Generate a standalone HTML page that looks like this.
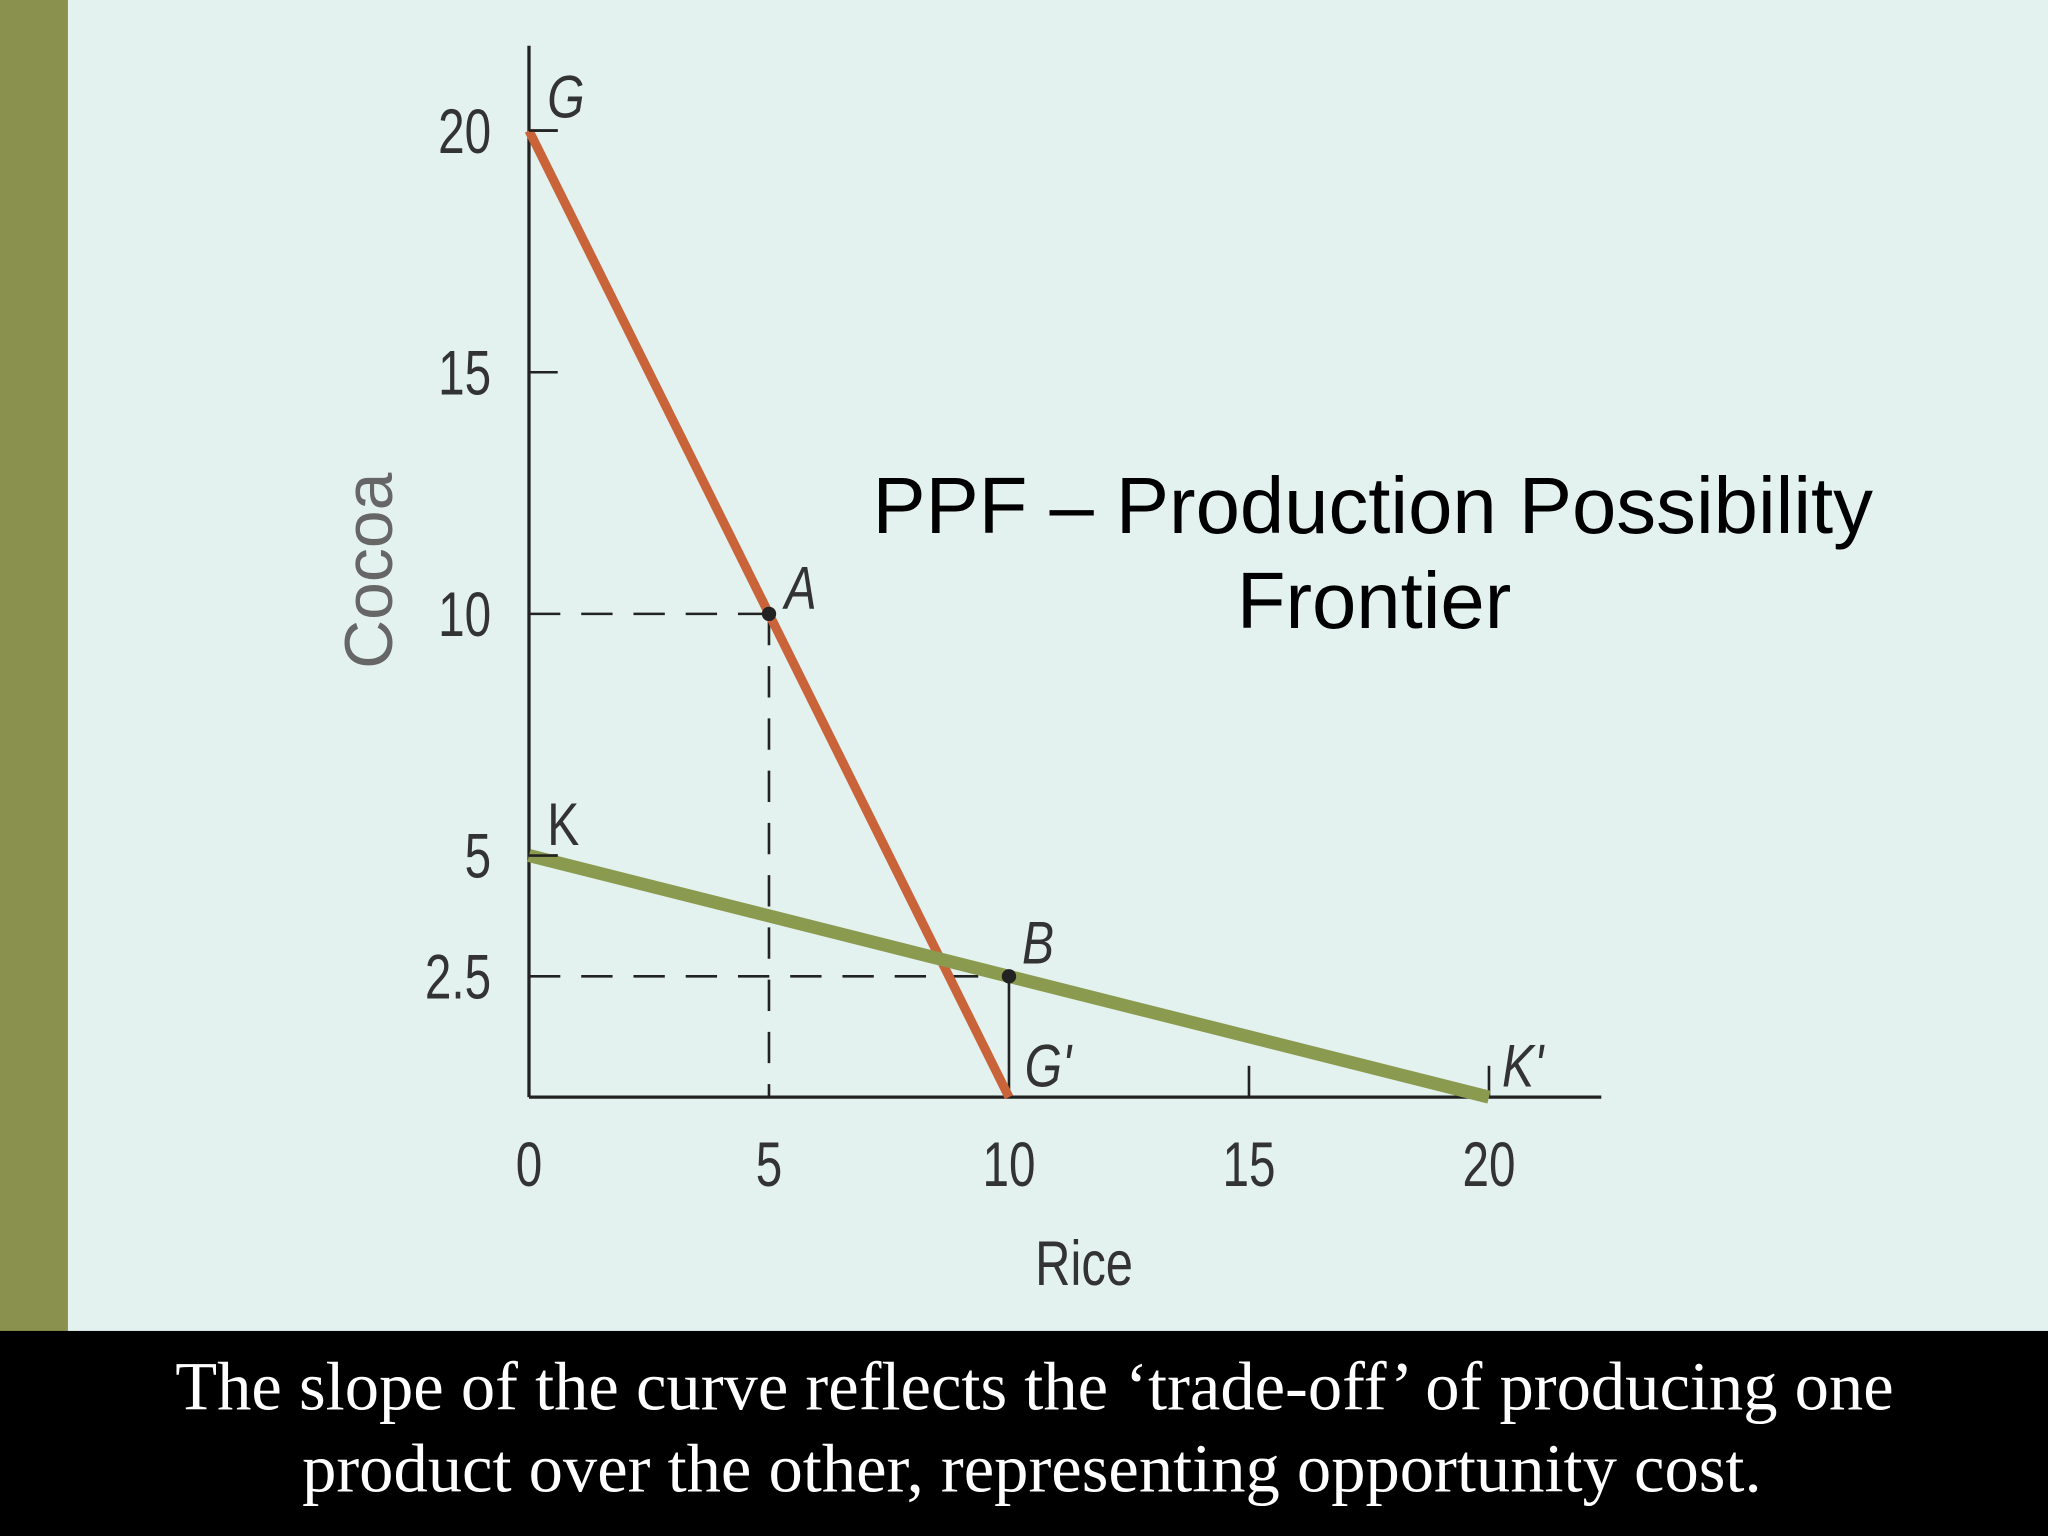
<!DOCTYPE html>
<html><head><meta charset="utf-8">
<style>
html,body{margin:0;padding:0;width:2048px;height:1536px;overflow:hidden;background:#e3f2ef}
svg{display:block}
.tick{font-family:"Liberation Sans",sans-serif;font-size:48px;fill:#333}
.lbl{font-family:"Liberation Sans",sans-serif;font-size:46px;fill:#333;font-style:italic}
</style></head>
<body>
<svg width="2048" height="1536" viewBox="0 0 1568 1176" preserveAspectRatio="none">
<rect x="0" y="0" width="1568" height="1176" fill="#e3f2ef"/>
<rect x="0" y="0" width="52" height="1020" fill="#8a914f"/>
<rect x="0" y="1019" width="1568" height="157" fill="#000"/>
<g id="chart"></g>
<text x="1051" y="408" text-anchor="middle" font-family="Liberation Sans,sans-serif" font-size="61" fill="#000">PPF – Production Possibility</text>
<text x="1052" y="481" text-anchor="middle" font-family="Liberation Sans,sans-serif" font-size="61" fill="#000">Frontier</text>
<text x="792" y="1079" text-anchor="middle" font-family="Liberation Serif,serif" font-size="52.5" fill="#fff">The slope of the curve reflects the ‘trade-off’ of producing one</text>
<text x="790" y="1142" text-anchor="middle" font-family="Liberation Serif,serif" font-size="52.5" fill="#fff">product over the other, representing opportunity cost.</text>
</svg>
<script>
const xTicks=[0,5,10,15,20];
const yTicks=[20,15,10,5,2.5];
const lineG=[[0,20],[10,0]];
const lineK=[[0,5],[20,0]];
const pointA=[5,10];
const pointB=[10,2.5];
const NS="http://www.w3.org/2000/svg";
const g=document.getElementById('chart');
const X=v=>405+v*36.75;
const Y=v=>840-v*37;
function mk(tag,attrs,parent){const e=document.createElementNS(NS,tag);for(const k in attrs)e.setAttribute(k,attrs[k]);(parent||g).appendChild(e);return e;}
function txt(s,x,y,cls,anchor,name,sx){const e=mk('text',{x:x,y:y,class:cls,'text-anchor':anchor||'middle'});if(sx)e.setAttribute('transform',`translate(${x},${y}) scale(${sx},1) translate(${-x},${-y})`);e.textContent=s;


return e;}
let d;
d=mk('line',{x1:X(0),y1:Y(pointA[1]),x2:X(pointA[0]),y2:Y(pointA[1]),stroke:'#222','stroke-width':2,'stroke-dasharray':'24,16'});


d=mk('line',{x1:X(pointA[0]),y1:Y(pointA[1]),x2:X(pointA[0]),y2:Y(0),stroke:'#222','stroke-width':2,'stroke-dasharray':'24,16'});


d=mk('line',{x1:X(0),y1:Y(pointB[1]),x2:X(pointB[0]),y2:Y(pointB[1]),stroke:'#222','stroke-width':2,'stroke-dasharray':'24,16'});


d=mk('line',{x1:X(pointB[0]),y1:Y(pointB[1]),x2:X(pointB[0]),y2:Y(0),stroke:'#222','stroke-width':2});


let a=mk('line',{x1:X(0),y1:35,x2:X(0),y2:Y(0),stroke:'#222','stroke-width':2.5});


a=mk('line',{x1:X(0),y1:Y(0),x2:1226,y2:Y(0),stroke:'#222','stroke-width':2.5});


yTicks.forEach(v=>{
 if(v!==10&&v!==2.5){const t=mk('line',{x1:X(0),y1:Y(v),x2:X(0)+22,y2:Y(v),stroke:'#222','stroke-width':2});
 
 }
 txt(String(v),376,Y(v)+17,'tick','end','y-tick-label',0.76);
});
xTicks.forEach(v=>{
 if(v===15||v===20){const t=mk('line',{x1:X(v),y1:Y(0),x2:X(v),y2:Y(0)-24,stroke:'#222','stroke-width':2});
 
 }
 txt(String(v),X(v),908,'tick','middle','x-tick-label',0.76);
});
txt('Rice',830,984,'tick','middle','x-axis-title',0.78);
const yt=txt('Cocoa',0,0,'tick','middle','y-axis-title');
yt.setAttribute('transform','translate(300,437) rotate(-90)');
yt.style.fontSize='52px';
yt.style.fill='#666';
let l=mk('line',{x1:X(lineG[0][0]),y1:Y(lineG[0][1]),x2:X(lineG[1][0]),y2:Y(lineG[1][1]),stroke:'#c9643a','stroke-width':7});


l=mk('line',{x1:X(lineK[0][0]),y1:Y(lineK[0][1]),x2:X(lineK[1][0]),y2:Y(lineK[1][1]),stroke:'#8a9a4e','stroke-width':10});


[lineG[0],lineK[0]].forEach(p=>{const t=mk('line',{x1:X(0),y1:Y(p[1]),x2:X(0)+22,y2:Y(p[1]),stroke:'#222','stroke-width':2});

});
let c=mk('circle',{cx:X(pointA[0]),cy:Y(pointA[1]),r:5.5,fill:'#222'});


c=mk('circle',{cx:X(pointB[0]),cy:Y(pointB[1]),r:5.5,fill:'#222'});


txt('G',X(lineG[0][0])+14,Y(lineG[0][1])-10,'lbl','start','label-g',0.8);
txt('K',X(lineK[0][0])+14,Y(lineK[0][1])-8,'lbl','start','label-k',0.8).style.fontStyle='normal';
txt('A',X(pointA[0])+12,Y(pointA[1])-4,'lbl','start','label-a',0.8);
txt('B',X(pointB[0])+10,Y(pointB[1])-10,'lbl','start','label-b',0.8);
txt("G'",X(lineG[1][0])+12,Y(0)-8,'lbl','start','label-g-prime',0.8);
txt("K'",X(lineK[1][0])+10,Y(0)-8,'lbl','start','label-k-prime',0.8);
</script>
</body></html>
